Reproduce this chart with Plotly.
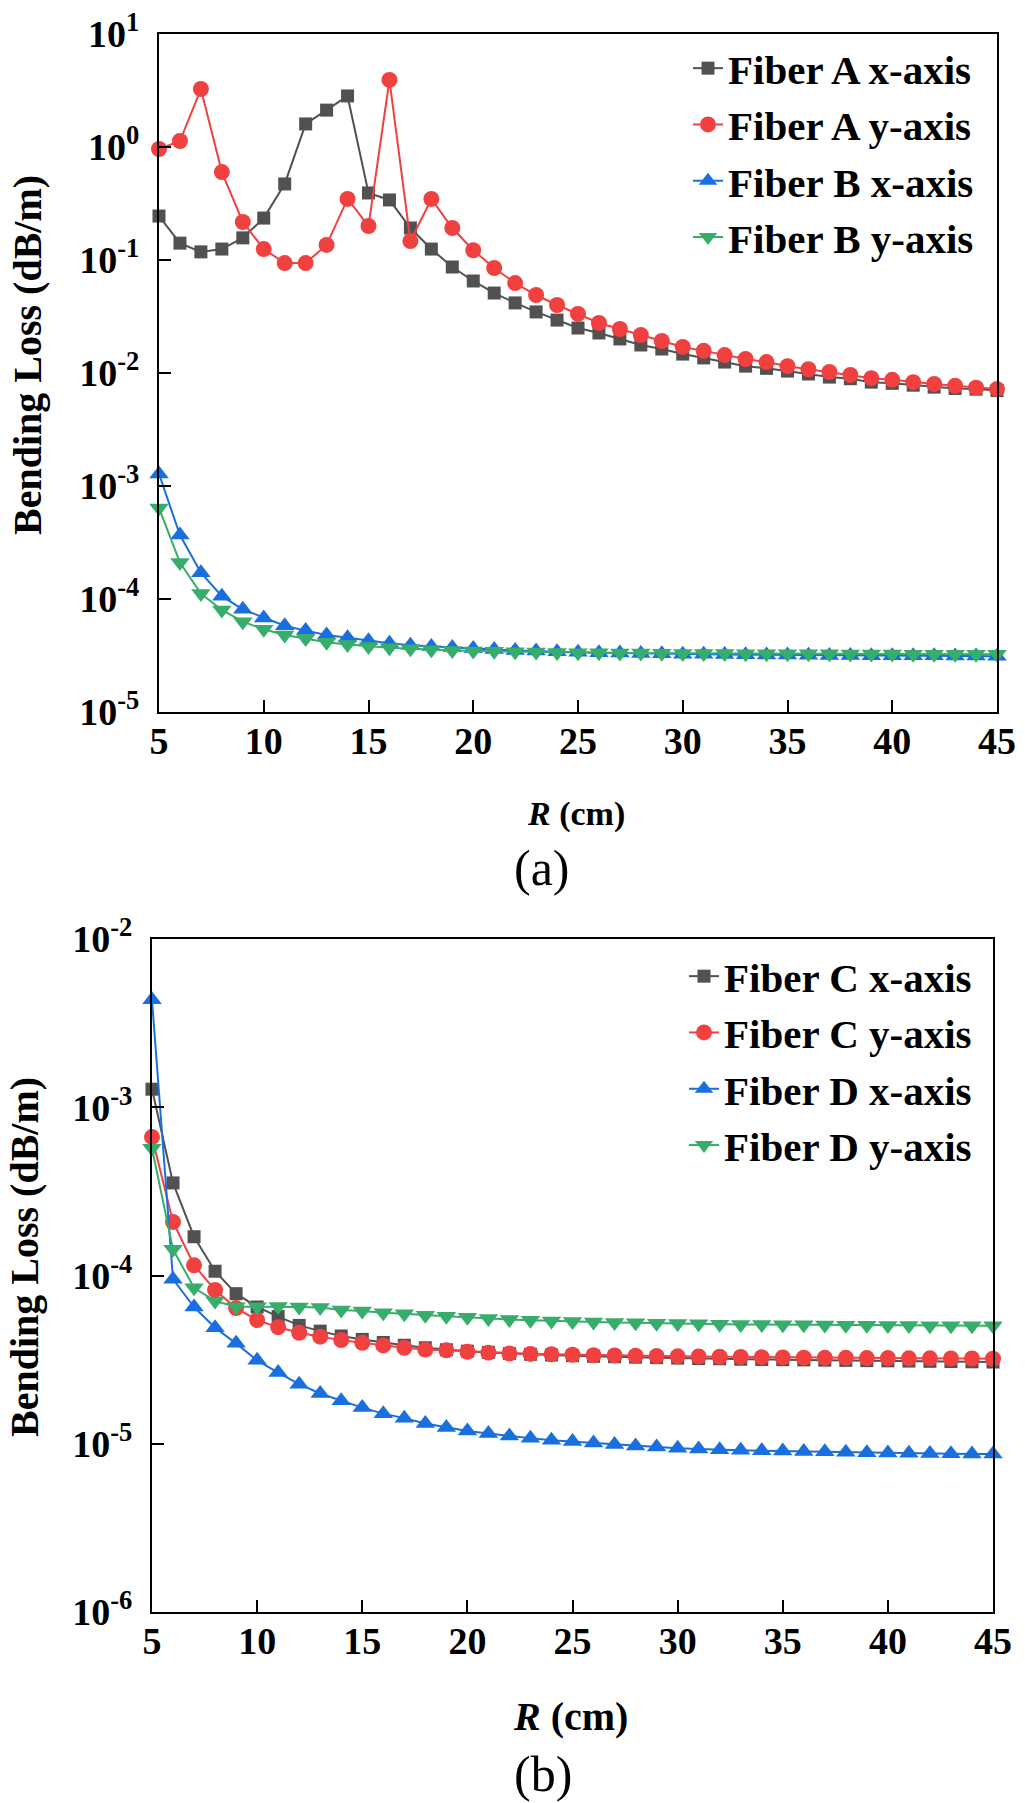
import plotly.graph_objects as go

# ---------------- data ----------------
R = list(range(5, 46))

fiberA_x = [0.245, 0.141, 0.118, 0.125, 0.157, 0.235, 0.471, 1.60, 2.12, 2.83,
            0.392, 0.340, 0.192, 0.125, 0.0867, 0.0652, 0.051, 0.0417, 0.0347, 0.0294,
            0.025, 0.0226, 0.020, 0.0177, 0.0163, 0.0147, 0.0136, 0.0125, 0.0115, 0.0110,
            0.0104, 0.0098, 0.0092, 0.0089, 0.0083, 0.0081, 0.0078, 0.0075, 0.0073, 0.0072,
            0.0070]
fiberA_y = [0.96, 1.13, 3.26, 0.60, 0.217, 0.125, 0.094, 0.094, 0.136, 0.347,
            0.20, 3.92, 0.147, 0.347, 0.192, 0.122, 0.085, 0.0625, 0.049, 0.040,
            0.0333, 0.0277, 0.0245, 0.0217, 0.0192, 0.017, 0.0157, 0.0144, 0.0133, 0.0125,
            0.0115, 0.0108, 0.0102, 0.0096, 0.0090, 0.0087, 0.0083, 0.0080, 0.0077, 0.0074,
            0.0072]
fiberB_x = [1.28e-3, 3.68e-4, 1.71e-4, 1.06e-4, 8.1e-5, 6.8e-5, 5.8e-5, 5.25e-5, 4.8e-5, 4.55e-5,
            4.28e-5, 4.05e-5, 3.9e-5, 3.8e-5, 3.72e-5, 3.64e-5, 3.57e-5, 3.51e-5, 3.46e-5, 3.42e-5,
            3.38e-5, 3.35e-5, 3.32e-5, 3.29e-5, 3.27e-5, 3.25e-5, 3.24e-5, 3.22e-5, 3.21e-5, 3.20e-5,
            3.19e-5, 3.18e-5, 3.17e-5, 3.16e-5, 3.15e-5, 3.15e-5, 3.14e-5, 3.14e-5, 3.13e-5, 3.13e-5,
            3.12e-5]
fiberB_y = [6.4e-4, 2.1e-4, 1.12e-4, 8.0e-5, 6.3e-5, 5.4e-5, 4.8e-5, 4.47e-5, 4.15e-5, 3.96e-5,
            3.8e-5, 3.7e-5, 3.62e-5, 3.56e-5, 3.51e-5, 3.47e-5, 3.44e-5, 3.41e-5, 3.39e-5, 3.37e-5,
            3.35e-5, 3.34e-5, 3.33e-5, 3.32e-5, 3.31e-5, 3.30e-5, 3.29e-5, 3.29e-5, 3.28e-5, 3.28e-5,
            3.27e-5, 3.27e-5, 3.27e-5, 3.26e-5, 3.26e-5, 3.26e-5, 3.25e-5, 3.25e-5, 3.25e-5, 3.25e-5,
            3.25e-5]

fiberC_x = [1.28e-3, 3.55e-4, 1.70e-4, 1.06e-4, 7.8e-5, 6.5e-5, 5.7e-5, 5.05e-5, 4.67e-5, 4.37e-5,
            4.17e-5, 4.0e-5, 3.85e-5, 3.72e-5, 3.62e-5, 3.55e-5, 3.49e-5, 3.44e-5, 3.40e-5, 3.37e-5,
            3.34e-5, 3.31e-5, 3.29e-5, 3.27e-5, 3.25e-5, 3.23e-5, 3.21e-5, 3.20e-5, 3.18e-5, 3.17e-5,
            3.16e-5, 3.15e-5, 3.14e-5, 3.13e-5, 3.12e-5, 3.11e-5, 3.10e-5, 3.09e-5, 3.08e-5, 3.07e-5,
            3.06e-5]
fiberC_y = [6.65e-4, 2.08e-4, 1.15e-4, 8.2e-5, 6.4e-5, 5.43e-5, 4.93e-5, 4.57e-5, 4.33e-5, 4.13e-5,
            3.98e-5, 3.84e-5, 3.72e-5, 3.63e-5, 3.59e-5, 3.52e-5, 3.48e-5, 3.44e-5, 3.42e-5, 3.40e-5,
            3.38e-5, 3.36e-5, 3.35e-5, 3.33e-5, 3.32e-5, 3.31e-5, 3.30e-5, 3.29e-5, 3.28e-5, 3.27e-5,
            3.26e-5, 3.25e-5, 3.24e-5, 3.24e-5, 3.23e-5, 3.23e-5, 3.22e-5, 3.22e-5, 3.21e-5, 3.21e-5,
            3.20e-5]
fiberD_x = [4.35e-3, 9.5e-5, 6.5e-5, 4.89e-5, 3.95e-5, 3.13e-5, 2.65e-5, 2.26e-5, 1.99e-5, 1.80e-5,
            1.64e-5, 1.51e-5, 1.42e-5, 1.32e-5, 1.25e-5, 1.19e-5, 1.15e-5, 1.11e-5, 1.08e-5, 1.05e-5,
            1.03e-5, 1.01e-5, 9.9e-6, 9.7e-6, 9.55e-6, 9.4e-6, 9.3e-6, 9.2e-6, 9.15e-6, 9.1e-6,
            9.05e-6, 9.0e-6, 8.95e-6, 8.9e-6, 8.85e-6, 8.8e-6, 8.78e-6, 8.75e-6, 8.72e-6, 8.7e-6,
            8.68e-6]
fiberD_y = [5.7e-4, 1.43e-4, 8.45e-5, 7.05e-5, 6.52e-5, 6.52e-5, 6.55e-5, 6.5e-5, 6.45e-5, 6.23e-5,
            6.15e-5, 6.0e-5, 5.93e-5, 5.8e-5, 5.72e-5, 5.65e-5, 5.55e-5, 5.48e-5, 5.42e-5, 5.37e-5,
            5.33e-5, 5.29e-5, 5.26e-5, 5.23e-5, 5.2e-5, 5.18e-5, 5.16e-5, 5.14e-5, 5.12e-5, 5.11e-5,
            5.1e-5, 5.09e-5, 5.08e-5, 5.07e-5, 5.06e-5, 5.05e-5, 5.04e-5, 5.03e-5, 5.03e-5, 5.02e-5,
            5.02e-5]

x_ticks = [5, 10, 15, 20, 25, 30, 35, 40, 45]
top_y_tickvals = [1e-5, 1e-4, 1e-3, 1e-2, 1e-1, 1e0, 1e1]
top_y_ticktext = ["10<sup>-5</sup>", "10<sup>-4</sup>", "10<sup>-3</sup>", "10<sup>-2</sup>",
                  "10<sup>-1</sup>", "10<sup>0</sup>", "10<sup>1</sup>"]
bot_y_tickvals = [1e-6, 1e-5, 1e-4, 1e-3, 1e-2]
bot_y_ticktext = ["10<sup>-6</sup>", "10<sup>-5</sup>", "10<sup>-4</sup>", "10<sup>-3</sup>",
                  "10<sup>-2</sup>"]

# ---------------- style ----------------
FONT = "Liberation Serif"
BLACK = "#515151"
RED = "#F14040"
BLUE = "#1A6FDF"
GREEN = "#37AD6B"
W, H = 1025, 1803

fig = go.Figure()


def add(y, name, color, symbol, size, xa, ya, legend):
    fig.add_trace(go.Scatter(
        x=R, y=y, name=name, mode="lines+markers",
        line=dict(color=color, width=2),
        marker=dict(symbol=symbol, size=size, color=color, line=dict(width=0)),
        xaxis=xa, yaxis=ya, legend=legend, cliponaxis=False))


add(fiberA_x, "Fiber A x-axis", BLACK, "square", 13, "x", "y", "legend")
add(fiberA_y, "Fiber A y-axis", RED, "circle", 16, "x", "y", "legend")
add(fiberB_x, "Fiber B x-axis", BLUE, "triangle-up", 17, "x", "y", "legend")
add(fiberB_y, "Fiber B y-axis", GREEN, "triangle-down", 17, "x", "y", "legend")

add(fiberC_x, "Fiber C x-axis", BLACK, "square", 13, "x2", "y2", "legend2")
add(fiberC_y, "Fiber C y-axis", RED, "circle", 16, "x2", "y2", "legend2")
add(fiberD_x, "Fiber D x-axis", BLUE, "triangle-up", 17, "x2", "y2", "legend2")
add(fiberD_y, "Fiber D y-axis", GREEN, "triangle-down", 17, "x2", "y2", "legend2")

tickfont = dict(family=FONT, size=38, color="black", weight="bold")
common_x = dict(range=[5, 45], tickmode="array", tickvals=x_ticks, ticks="inside",
                ticklen=12, tickwidth=2, tickcolor="black", showline=True, linewidth=2,
                linecolor="black", mirror=True, showgrid=False, zeroline=False,
                tickfont=tickfont, ticklabelstandoff=-6, automargin=False)
common_y = dict(type="log", tickmode="array", ticks="inside", ticklen=12, tickwidth=2,
                tickcolor="black", showline=True, linewidth=2, linecolor="black",
                mirror=True, showgrid=False, zeroline=False, tickfont=tickfont,
                ticklabelstandoff=10, automargin=False)


def px_x(p):
    return p / W


def px_y(p):
    return 1 - p / H


legend_font = dict(family=FONT, size=41, color="black", weight="bold")

fig.update_layout(
    template="none",
    width=W, height=H,
    margin=dict(l=0, r=0, t=0, b=0, pad=0),
    paper_bgcolor="white", plot_bgcolor="white",
    showlegend=True,
    xaxis=dict(domain=[px_x(159), px_x(997)], anchor="y", **common_x),
    yaxis=dict(domain=[px_y(712), px_y(34)], anchor="x", range=[-5, 1],
               tickvals=top_y_tickvals, ticktext=top_y_ticktext, **common_y),
    xaxis2=dict(domain=[px_x(152), px_x(993)], anchor="y2", **common_x),
    yaxis2=dict(domain=[px_y(1612), px_y(939)], anchor="x2", range=[-6, -2],
                tickvals=bot_y_tickvals, ticktext=bot_y_ticktext, **common_y),
    legend=dict(x=px_x(688), y=px_y(35), xanchor="left", yanchor="top",
                font=legend_font, bgcolor="rgba(0,0,0,0)", borderwidth=0),
    legend2=dict(x=px_x(684), y=px_y(943), xanchor="left", yanchor="top",
                 font=legend_font, bgcolor="rgba(0,0,0,0)", borderwidth=0),
)

title_font = dict(family=FONT, size=40, color="black", weight="bold")
annots = [
    dict(text="Bending Loss (dB/m)", x=px_x(27), y=px_y(355), textangle=-90, font=title_font),
    dict(text="Bending Loss (dB/m)", x=px_x(24), y=px_y(1257), textangle=-90, font=title_font),
    dict(text="<i>R</i> (cm)", x=px_x(576), y=px_y(814),
         font=dict(family=FONT, size=34, color="black", weight="bold")),
    dict(text="<i>R</i> (cm)", x=px_x(570), y=px_y(1716), font=title_font),
    dict(text="(a)", x=px_x(542), y=px_y(868),
         font=dict(family=FONT, size=50, color="black")),
    dict(text="(b)", x=px_x(543), y=px_y(1774),
         font=dict(family=FONT, size=50, color="black")),
]
for a in annots:
    fig.add_annotation(xref="paper", yref="paper", xanchor="center", yanchor="middle",
                       showarrow=False, **a)

fig.write_html("out.html")
